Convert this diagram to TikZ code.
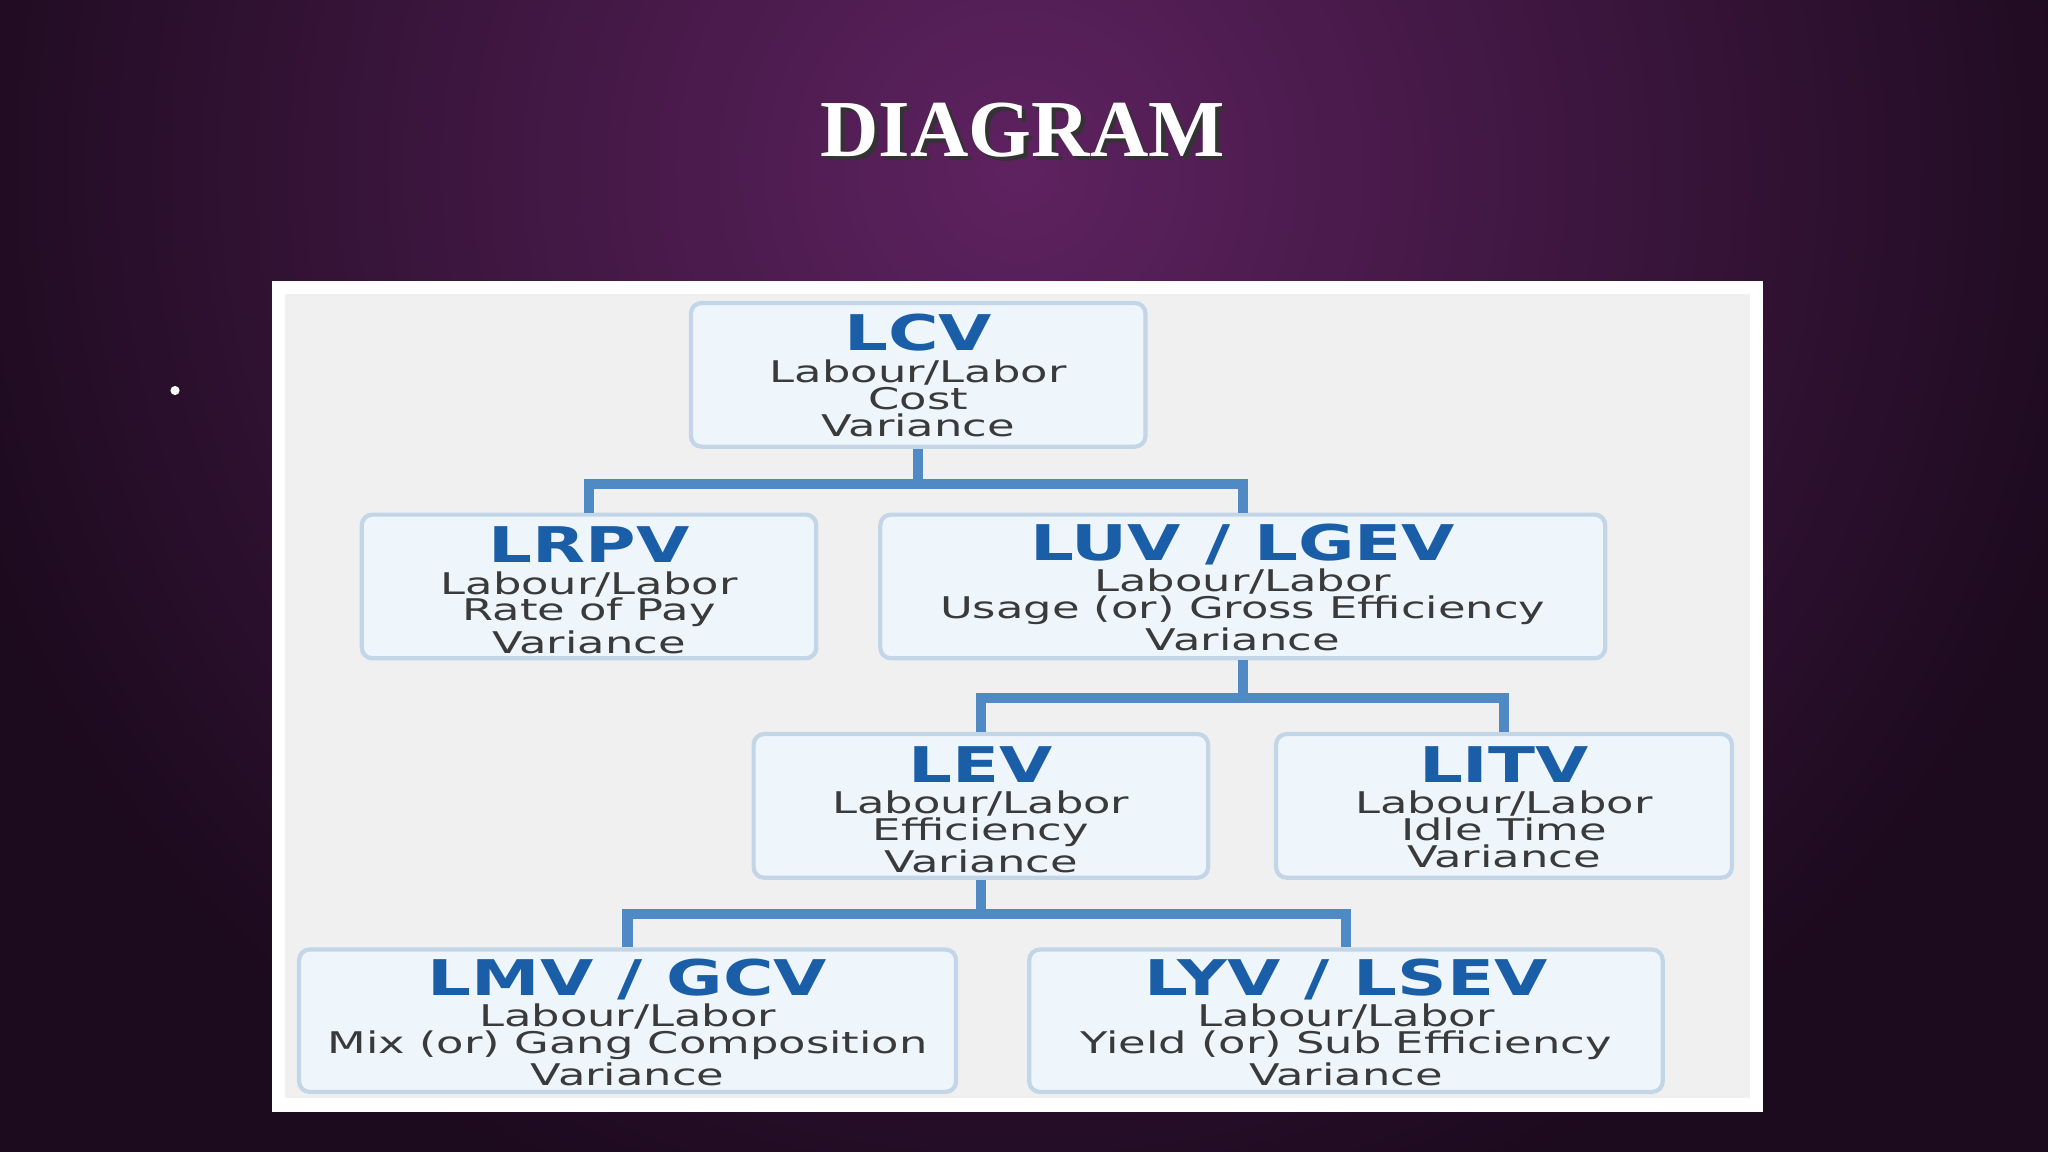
\documentclass[tikz,border=0pt]{standalone}
\usepackage{fontspec}
\newfontfamily\hdfont[FakeStretch=1.4]{DejaVu Sans Bold}
\newfontfamily\bdfont[FakeStretch=1.5]{DejaVu Sans}
\newfontfamily\ttlfont{Liberation Serif}
\definecolor{bgd}{HTML}{1C0A1E}
\definecolor{bgl}{HTML}{5E2260}
\definecolor{hblue}{HTML}{1A5EA8}
\definecolor{ctext}{HTML}{3A3A3A}
\definecolor{boxfill}{HTML}{EEF5FB}
\definecolor{boxline}{HTML}{C2D6E8}
\definecolor{conncol}{HTML}{4F8AC4}
\tikzset{
 vbox/.style={draw=boxline,line width=1.2pt,fill=boxfill,rounded corners=3pt,inner sep=0pt},
 conn/.style={draw=conncol,line width=8*0.013061cm},
 head/.style={text=hblue,font=\hdfont\fontsize{14}{14}\selectfont,inner sep=0pt},
 body/.style={text=ctext,font=\bdfont\fontsize{8.5}{7.6}\selectfont,align=center,inner sep=0pt,anchor=north}
}
\newcommand\vbx[8]{%
 \node[vbox,minimum width={(#4-#2)*0.013061cm},minimum height={(#5-#3)*0.013061cm}] (#1) at ({(#2+#4)/2},{(#3+#5)/2}) {};
 \node[head] (#1h) at ({(#2+#4)/2},{#3+23}) {#6};
 \node[body] (#1b) at ({(#2+#4)/2},{#3+43+#8}) {#7};
}
\begin{document}
\begin{tikzpicture}[x=0.013061cm,y=-0.013061cm]
\useasboundingbox (0,0) rectangle (1568,882);
\fill[bgd] (0,0) rectangle (1568,882);
\begin{scope}
\clip (0,0) rectangle (1568,882);
\shade[inner color=bgl,outer color=bgd] (780,130) circle[radius=850];
\end{scope}
\node[text=black!80,font=\ttlfont\bfseries\fontsize{23}{23}\selectfont] (ts) at (786,103) {DIAGRAM};
\node[text=white,font=\ttlfont\bfseries\fontsize{23}{23}\selectfont] (title) at (783,100) {DIAGRAM};
\fill[white] (134,299) circle[radius=3.5];
\fill[white] (208,215) rectangle (1350,851);
\fill[gray!12] (218,225) rectangle (1340,841);
\vbx{lcv}{529}{232}{877}{342}{LCV}{Labour/Labor\\Cost\\Variance}{0}
\vbx{lrpv}{277}{394}{625}{504}{LRPV}{Labour/Labor\\Rate of Pay\\Variance}{0}
\vbx{luv}{674}{394}{1229}{504}{LUV / LGEV}{Labour/Labor\\Usage (or) Gross Efficiency\\Variance}{-2}
\vbx{lev}{577}{562}{925}{672}{LEV}{Labour/Labor\\Efficiency\\Variance}{0}
\vbx{litv}{977}{562}{1326}{672}{LITV}{Labour/Labor\\Idle Time\\Variance}{0}
\vbx{lmv}{229}{727}{732}{836}{LMV / GCV}{Labour/Labor\\Mix (or) Gang Composition\\Variance}{-2}
\vbx{lyv}{788}{727}{1273}{836}{LYV / LSEV}{Labour/Labor\\Yield (or) Sub Efficiency\\Variance}{-2}
\draw[conn] (lcv.south) -- ++(0,27) -| (lrpv.north);
\draw[conn] (lcv.south) -- ++(0,27) -| (luv.north);
\draw[conn] (luv.south) -- ++(0,29) -| (lev.north);
\draw[conn] (luv.south) -- ++(0,29) -| (litv.north);
\draw[conn] (lev.south) -- ++(0,26) -| (lmv.north);
\draw[conn] (lev.south) -- ++(0,26) -| (lyv.north);
\end{tikzpicture}
\end{document}
